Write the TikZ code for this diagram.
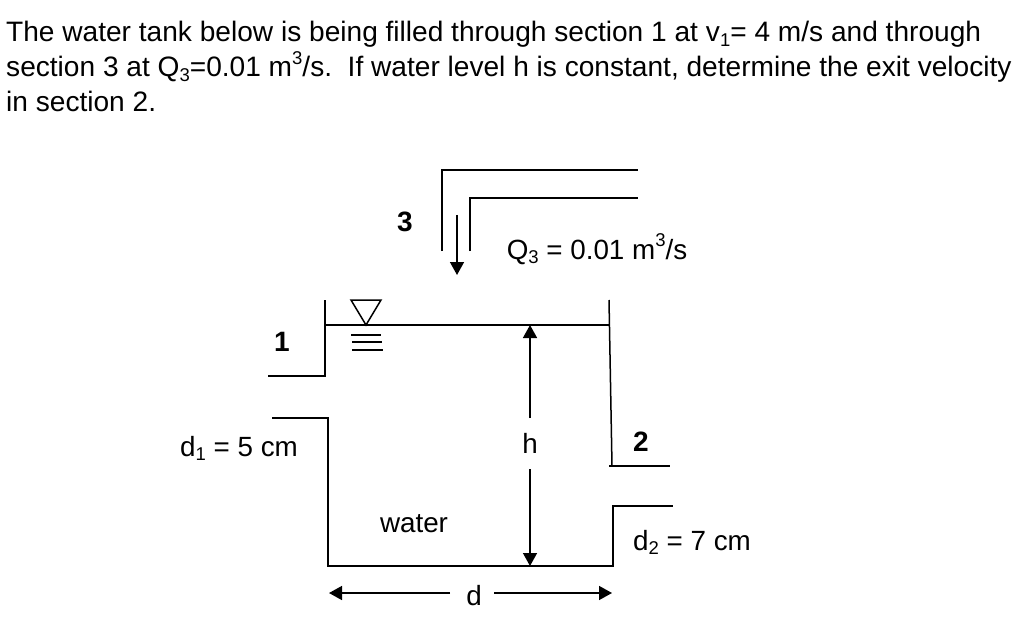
\documentclass[tikz,border=0pt]{standalone}
\usepackage{fontspec}
\setmainfont{Liberation Sans}
\usepackage{tikz}
\usetikzlibrary{positioning,arrows.meta}
\newcommand{\lowsub}[1]{\raisebox{-0.17em}{\fontsize{18.5}{18.5}\selectfont #1}}
\newcommand{\highsup}[1]{\raisebox{0.44em}{\fontsize{18.5}{18.5}\selectfont #1}}

\begin{document}
\begin{tikzpicture}
[
x=1pt, y=-1pt,
wall-a/.style={line width=1.5pt},
wall-b/.style={line width=1.1pt},
dim-a/.style={line width=1.5pt, -{Triangle[width=14pt,length=13pt]}},
text-a/.style={inner sep=0pt, anchor=base west, font=\fontsize{28.1}{32}\selectfont},
text-b/.style={inner sep=0pt, anchor=base, font=\fontsize{27.8}{32}\selectfont},
text-c/.style={inner sep=0pt, anchor=base, font=\fontsize{28}{32}\selectfont\bfseries}
]
\useasboundingbox (0,0) rectangle (1024,644);

% problem text
\node (line-1) [text-a] at (6,42) {The water tank below is being filled through section 1 at v\lowsub{1}= 4 m/s and through};
\node (line-2) [text-a] at (6,77) {section 3 at Q\lowsub{3}=0.01 m\highsup{3}/s.\ \ If water level h is constant, determine the exit velocity};
\node (line-3) [text-a] at (6,112) {in section 2.};

% labels
\node (num-3)   [text-c] at (405,232) {3};
\node (num-1)   [text-c] at (282,351) {1};
\node (num-2)   [text-c] at (641,451) {2};
\node (lb-q3)   [text-b] at (597,259) {Q\lowsub{3} = 0.01 m\highsup{3}/s};
\node (lb-d1)   [text-b] at (239,456) {d\lowsub{1} = 5 cm};
\node (lb-d2)   [text-b] at (692,550) {d\lowsub{2} = 7 cm};
\node (lb-water)[text-b] at (414,532) {water};
\node (lb-h)    [text-b] at (530,453) {h};
\node (lb-d)    [text-b] at (474,605) {d};

% free ends of the arrows
\coordinate (flow-a) at (457,215);
\coordinate (flow-b) at (457,275);
\coordinate (h-top)  at (530,325);
\coordinate (h-bot)  at (530,566);
\coordinate (d-left) at (329,593);
\coordinate (d-right) at (612,593);

% pipe 3
\draw [wall-a] (442,251) -- (442,170) -- (638,170);
\draw [wall-a] (470,251) -- (470,198) -- (638,198);
\draw [dim-a] (flow-a) -- (flow-b);

% tank
\draw [wall-a] (325,300) -- (325,376) -- (268,376);
\draw [wall-a] (325,325) -- (609,325);
\draw [wall-a] (609,300) -- (612,466);
\draw [wall-b] (609,466) -- (670,466);
\draw [wall-a] (272,418) -- (328,418) -- (328,566) -- (613,566) -- (613,506) -- (673,506);

% water level mark
\draw [wall-a] (351,300) -- (381,300) -- (366,325) -- cycle;
\draw [wall-a] (351,335) -- (381,335);
\draw [wall-a] (352,342) -- (382,342);
\draw [wall-a] (352,350) -- (383,350);

% dimensions
\draw [dim-a] (530,418) -- (h-top);
\draw [dim-a] (530,469) -- (h-bot);
\draw [dim-a] (450,593) -- (d-left);
\draw [dim-a] (494,593) -- (d-right);

\end{tikzpicture}
\end{document}
